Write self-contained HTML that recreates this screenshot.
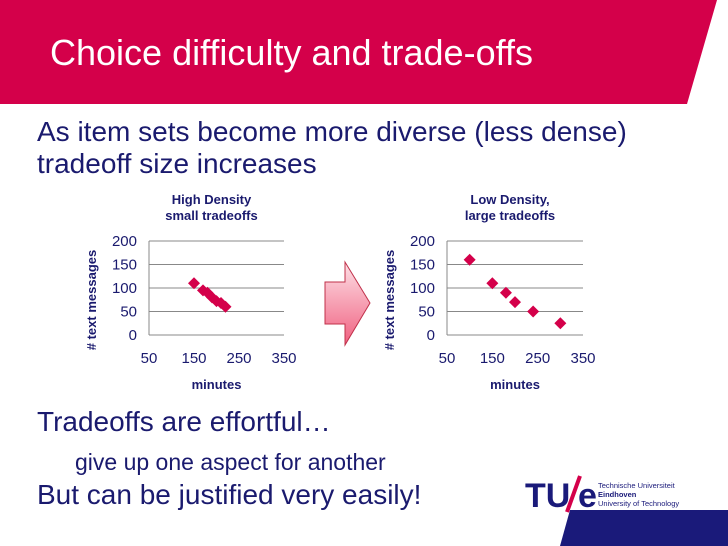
<!DOCTYPE html>
<html><head><meta charset="utf-8"><style>
body{margin:0;width:728px;height:546px;overflow:hidden;background:#fff;font-family:"Liberation Sans",sans-serif;position:relative}
.t{position:absolute;white-space:nowrap}
</style></head><body>
<svg width="728" height="104" style="position:absolute;left:0;top:0">
<polygon points="0,0 717,0 687,104 0,104" fill="#d4004a"/>
</svg>
<div class="t" style="left:50px;top:32px;font-size:36px;color:#fff">Choice difficulty and trade-offs</div>
<div class="t" style="left:37px;top:116px;font-size:28px;line-height:32px;color:#1a1a6e">As item sets become more diverse (less dense)<br>tradeoff size increases</div>
<svg id="charts" width="728" height="420" style="position:absolute;left:0;top:0" font-family="Liberation Sans, sans-serif"></svg>
<div class="t" style="left:37px;top:406px;font-size:28px;color:#1a1a6e">Tradeoffs are effortful…</div>
<div class="t" style="left:75px;top:449px;font-size:23px;color:#1a1a6e">give up one aspect for another</div>
<div class="t" style="left:37px;top:479px;font-size:28px;color:#1a1a6e">But can be justified very easily!</div>
<svg width="228" height="86" style="position:absolute;left:500px;top:460px">
<polygon points="70,50 228,50 228,86 60,86" fill="#1a1a7a"/>
<text x="25" y="47" font-size="34" font-weight="bold" fill="#1a1a7a" font-family="Liberation Sans">TU</text>
<line x1="80" y1="16" x2="67" y2="52" stroke="#d4004a" stroke-width="4"/>
<text x="78" y="47" font-size="34" font-weight="bold" fill="#1a1a7a" font-family="Liberation Sans">e</text>
<text x="98" y="28" font-size="7.5" fill="#1a1a7a">Technische Universiteit</text>
<text x="98" y="37" font-size="7.5" font-weight="bold" fill="#1a1a7a">Eindhoven</text>
<text x="98" y="46" font-size="7.5" fill="#1a1a7a">University of Technology</text>
</svg>
<script>
const xTicks=[50,150,250,350];
const yTicks=[0,50,100,150,200];
const highX=[150,170,180,190,200,210,220];
const highY=[110,95,90,80,72,68,60];
const lowX=[100,150,180,200,240,300];
const lowY=[160,110,90,70,50,25];
const NS="http://www.w3.org/2000/svg";
const svg=document.getElementById('charts');
function el(t,a,p){const e=document.createElementNS(NS,t);for(const k in a)e.setAttribute(k,a[k]);(p||svg).appendChild(e);return e;}
function chart(name,x0,x1,y0,y1,title,xs,ys){
 const g=el('g',{});
 
 
 const sx=v=>x0+(v-50)/300*(x1-x0), sy=v=>y0-(v/200)*(y0-y1);
 yTicks.forEach(v=>{
  const l=el('line',{x1:x0,x2:x1,y1:sy(v),y2:sy(v),stroke:'#888','stroke-width':1},g);
  
  
  const t=el('text',{x:x0-12,y:sy(v)+5,'text-anchor':'end','font-size':15,fill:'#1a1a6e'},g);t.textContent=v;
  
  
 });
 el('line',{x1:x0,x2:x0,y1:y1,y2:y0,stroke:'#888'},g);
 xTicks.forEach(v=>{
  const t=el('text',{x:sx(v),y:y0+28,'text-anchor':'middle','font-size':15,fill:'#1a1a6e'},g);t.textContent=v;
  
  
 });
 const xt=el('text',{x:(x0+x1)/2,y:y0+54,'text-anchor':'middle','font-size':13,'font-weight':'bold',fill:'#1a1a6e'},g);xt.textContent='minutes';
 
 
 const cy=(y0+y1)/2+12, cx=x0-53;
 const yt=el('text',{x:cx,y:cy,transform:`rotate(-90 ${cx} ${cy})`,'text-anchor':'middle','font-size':13,'font-weight':'bold',fill:'#1a1a6e'},g);yt.textContent='# text messages';
 
 
 title.forEach((s,i)=>{const t=el('text',{x:(x0+x1)/2-5,y:y1-37+i*16,'text-anchor':'middle','font-size':13,'font-weight':'bold',fill:'#1a1a6e'},g);t.textContent=s;
  
  });
 xs.forEach((v,i)=>{const px=sx(v),py=sy(ys[i]);
  const p=el('polygon',{points:`${px},${py-6} ${px+6},${py} ${px},${py+6} ${px-6},${py}`,fill:'#d4004a'},g);
  
  });
}
chart('high-density-chart',149,284,335,241,['High Density','small tradeoffs'],highX,highY);
chart('low-density-chart',447,583,335,241,['Low Density,','large tradeoffs'],lowX,lowY);
const defs=el('defs',{});
const lg=el('linearGradient',{id:'ag',x1:0,y1:0,x2:0,y2:1},defs);
el('stop',{offset:0,'stop-color':'#fde0e6'},lg);el('stop',{offset:1,'stop-color':'#f06080'},lg);
const ar=el('polygon',{points:'325,282 345,282 345,262 370,303 345,345 345,324 325,324',fill:'url(#ag)',stroke:'#c0304a','stroke-width':1});


</script>
</body></html>
